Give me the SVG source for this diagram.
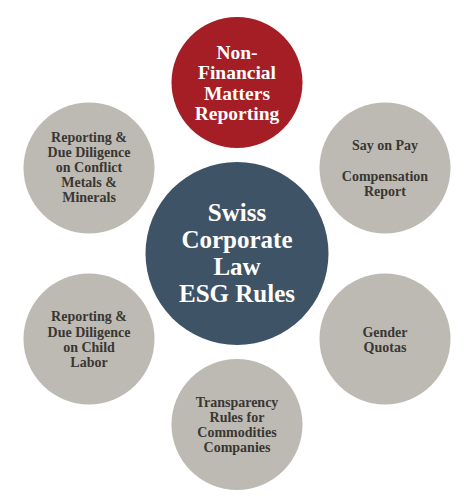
<svg xmlns="http://www.w3.org/2000/svg" width="474" height="504" viewBox="0 0 474 504">
<style>
.sat{fill:#bdbab3}
.t{font-family:"Liberation Serif","Times New Roman",serif;font-weight:bold;text-anchor:middle}
.s{font-size:14px;fill:#3a3632}
.r{font-size:19.5px;fill:#ffffff}
.c{font-size:25px;fill:#ffffff}
</style>
<rect width="474" height="504" fill="#ffffff"/>
<g id="connectors"></g>
<g id="center">
<circle cx="237" cy="253.5" r="91.5" fill="#3f5366"/>
<text class="t c" x="237" y="221">Swiss</text>
<text class="t c" x="237" y="248">Corporate</text>
<text class="t c" x="237" y="275">Law</text>
<text class="t c" x="237" y="302">ESG Rules</text>
</g>
<g id="non-financial">
<circle cx="237" cy="82.5" r="65.5" fill="#a51d25"/>
<text class="t r" x="237" y="58.5">Non-</text>
<text class="t r" x="237" y="79">Financial</text>
<text class="t r" x="237" y="99.5">Matters</text>
<text class="t r" x="237" y="120">Reporting</text>
</g>
<g id="say-on-pay">
<circle class="sat" cx="385" cy="168" r="65.5"/>
<text class="t s" x="385" y="150">Say on Pay</text>
<text class="t s" x="385" y="181">Compensation</text>
<text class="t s" x="385" y="196">Report</text>
</g>
<g id="gender">
<circle class="sat" cx="385" cy="339" r="65.5"/>
<text class="t s" x="385" y="336.5">Gender</text>
<text class="t s" x="385" y="351.5">Quotas</text>
</g>
<g id="transparency">
<circle class="sat" cx="237" cy="424.5" r="65.5"/>
<text class="t s" x="237" y="407">Transparency</text>
<text class="t s" x="237" y="422">Rules for</text>
<text class="t s" x="237" y="437">Commodities</text>
<text class="t s" x="237" y="452">Companies</text>
</g>
<g id="child-labor">
<circle class="sat" cx="89" cy="339" r="65.5"/>
<text class="t s" x="89" y="321">Reporting &amp;</text>
<text class="t s" x="89" y="336.5">Due Diligence</text>
<text class="t s" x="89" y="351.5">on Child</text>
<text class="t s" x="89" y="367">Labor</text>
</g>
<g id="conflict-minerals">
<circle class="sat" cx="89" cy="168" r="65.5"/>
<text class="t s" x="89" y="142">Reporting &amp;</text>
<text class="t s" x="89" y="157">Due Diligence</text>
<text class="t s" x="89" y="172">on Conflict</text>
<text class="t s" x="89" y="187">Metals &amp;</text>
<text class="t s" x="89" y="202">Minerals</text>
</g>
</svg>
